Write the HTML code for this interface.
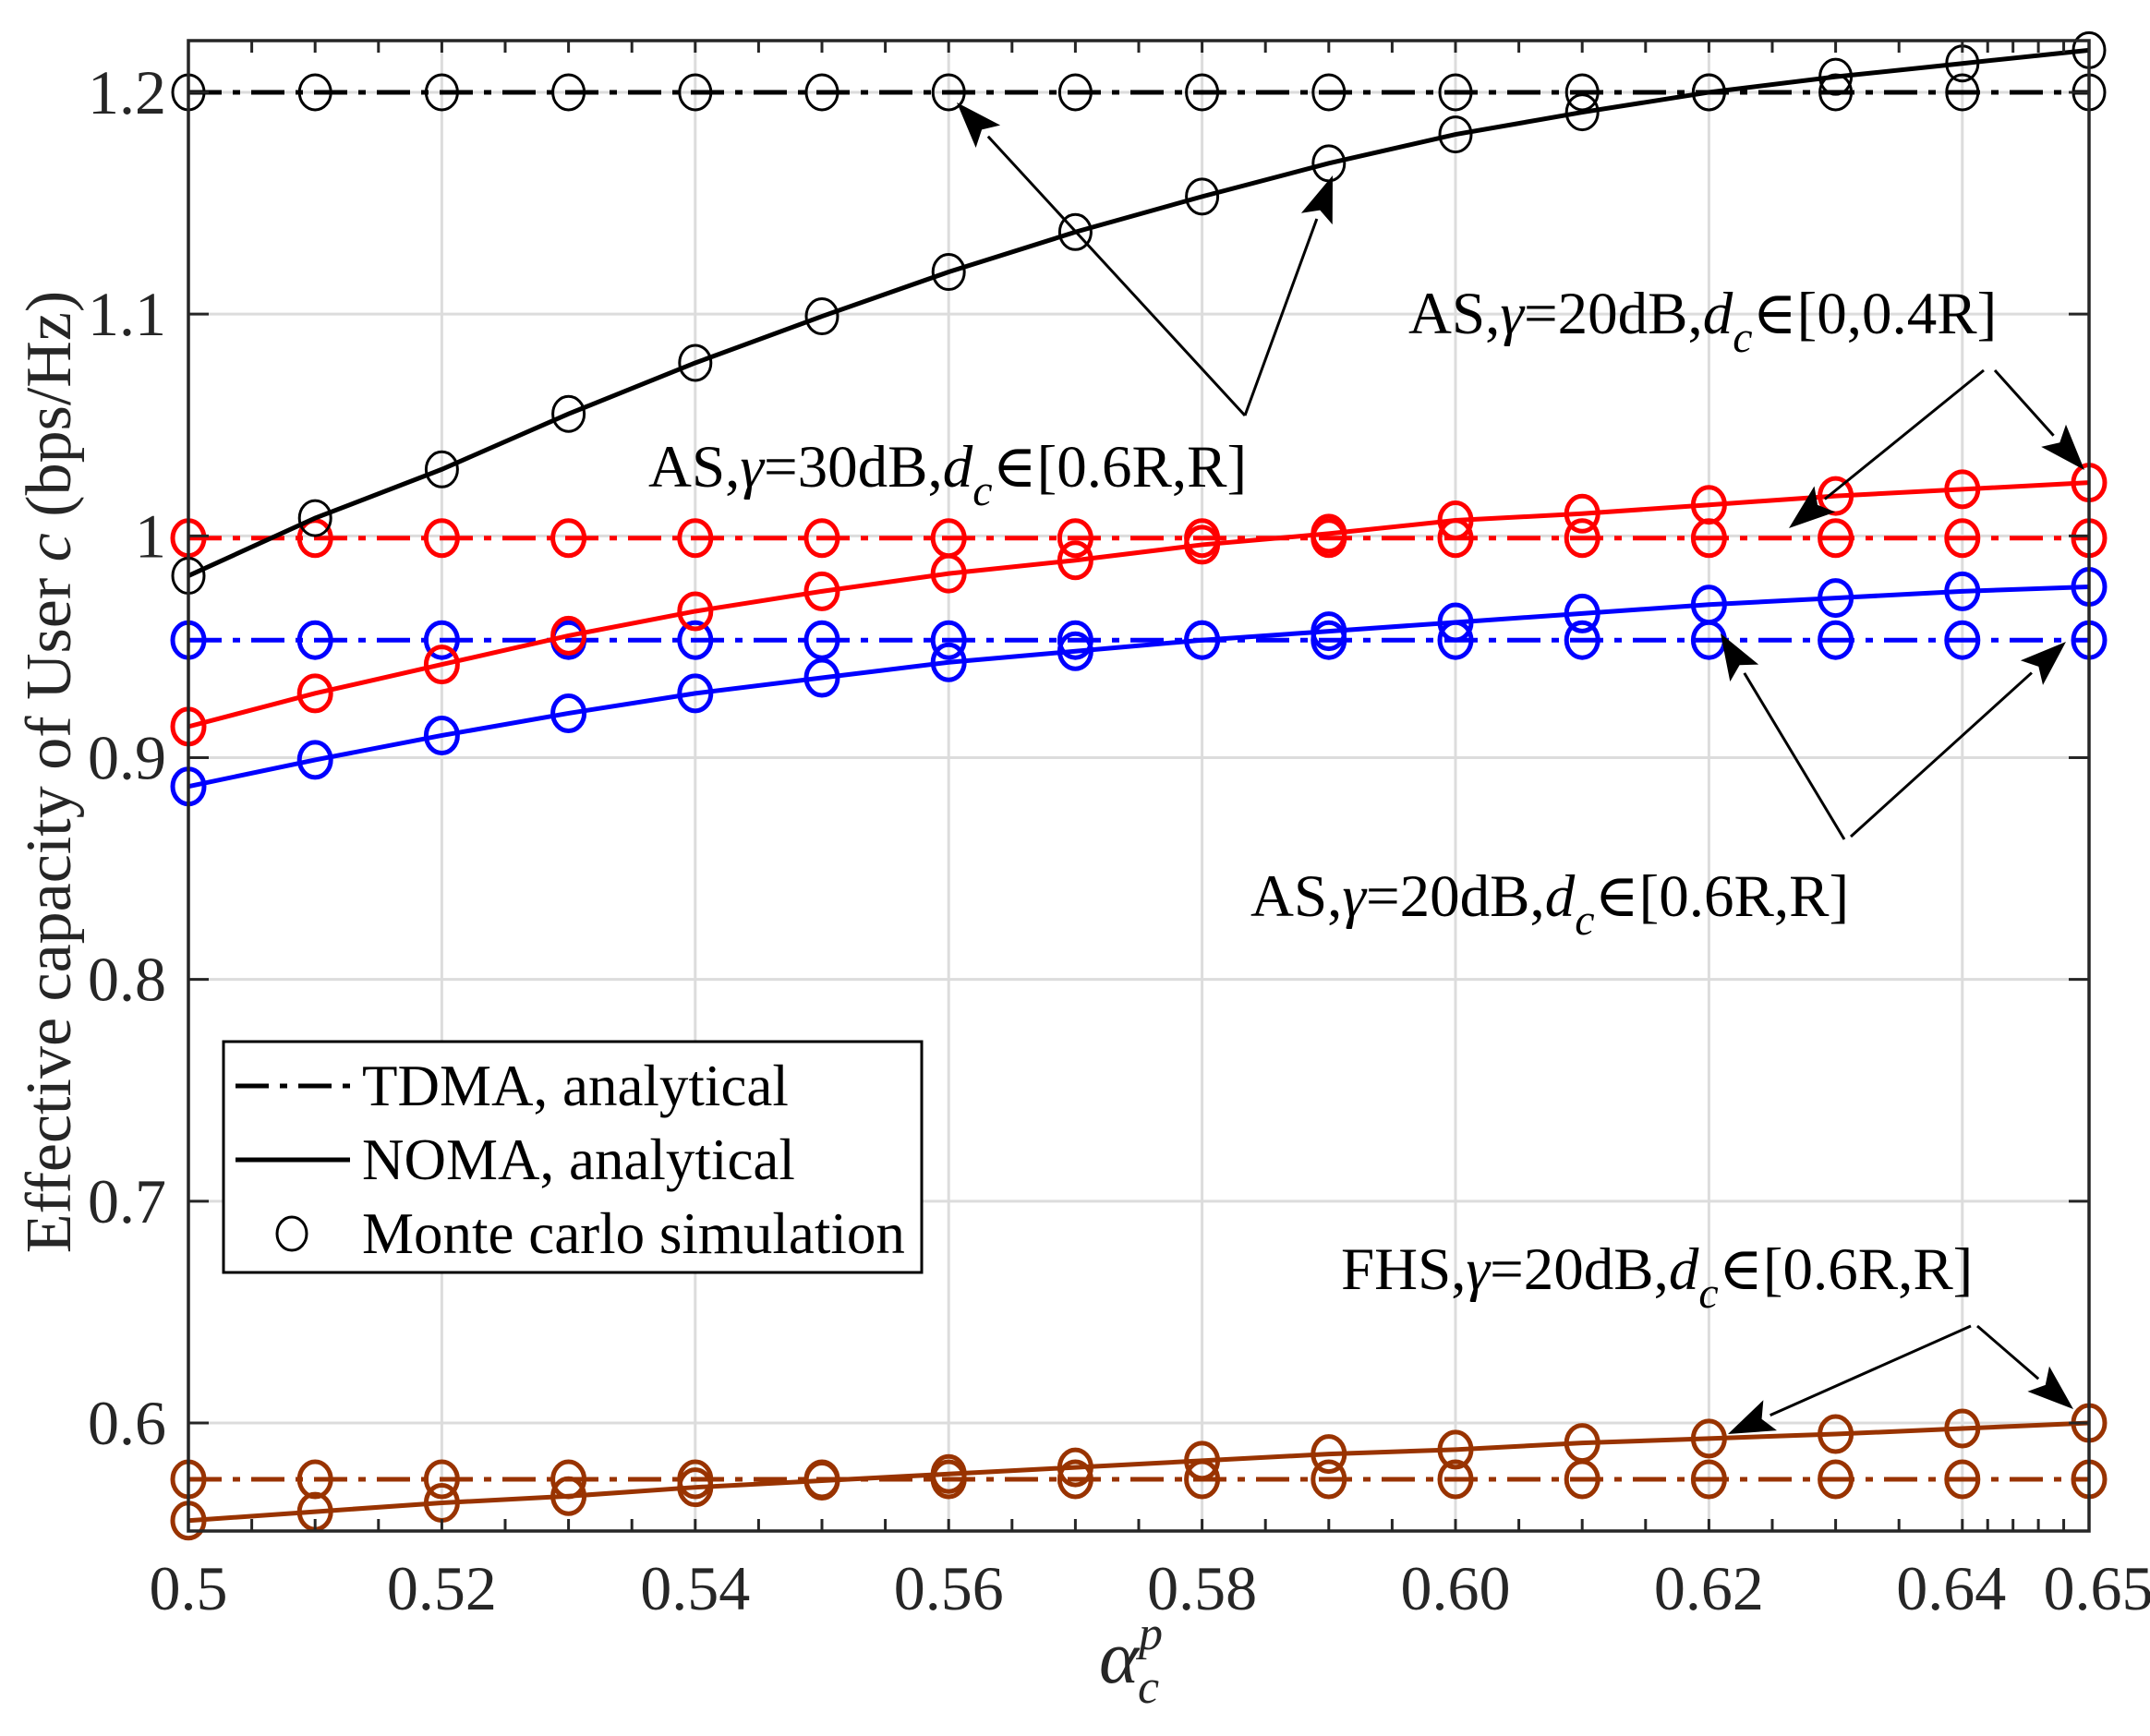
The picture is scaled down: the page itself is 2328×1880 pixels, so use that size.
<!DOCTYPE html>
<html><head><meta charset="utf-8">
<style>
html,body{margin:0;padding:0;background:#fff;}
svg{display:block;font-family:"Liberation Serif","DejaVu Serif",serif;}
</style></head>
<body>
<svg id="chart" width="2328" height="1880" viewBox="0 0 2328 1880" xmlns="http://www.w3.org/2000/svg">
<g id="grid"></g>
<g id="series"></g>
<g id="axes"></g>
<g id="annot">
  <text x="702" y="527" font-size="65">AS,<tspan font-style="italic">γ</tspan>=30dB,<tspan font-style="italic">d</tspan><tspan font-style="italic" font-size="48" dy="20">c</tspan><tspan dy="-20">∈[0.6R,R]</tspan></text>
  <text x="1525" y="361" font-size="65">AS,<tspan font-style="italic">γ</tspan>=20dB,<tspan font-style="italic">d</tspan><tspan font-style="italic" font-size="48" dy="20">c</tspan><tspan dy="-20">∈[0,0.4R]</tspan></text>
  <text x="1354" y="992" font-size="65">AS,<tspan font-style="italic">γ</tspan>=20dB,<tspan font-style="italic">d</tspan><tspan font-style="italic" font-size="48" dy="20">c</tspan><tspan dy="-20">∈[0.6R,R]</tspan></text>
  <text x="1452" y="1396" font-size="65">FHS,<tspan font-style="italic">γ</tspan>=20dB,<tspan font-style="italic">d</tspan><tspan font-style="italic" font-size="48" dy="20">c</tspan><tspan dy="-20">∈[0.6R,R]</tspan></text>
</g>
<g id="legend">
  <rect x="242" y="1128" width="756" height="250" fill="#fff" stroke="#000" stroke-width="3"/>
  <g>
    <line x1="255" y1="1176" x2="379" y2="1176" stroke="#000" stroke-width="5" stroke-dasharray="36 12 8 12"/>
    <text x="392" y="1197" font-size="63">TDMA, analytical</text>
  </g>
  <g>
    <line x1="255" y1="1256" x2="379" y2="1256" stroke="#000" stroke-width="5"/>
    <text x="392" y="1277" font-size="63">NOMA, analytical</text>
  </g>
  <g>
    <ellipse cx="316" cy="1336" rx="16" ry="18" fill="none" stroke="#000" stroke-width="3"/>
    <text x="392" y="1357" font-size="63">Monte carlo simulation</text>
  </g>
</g>
</svg>
<script>
const xVals=[0.5,0.51,0.52,0.53,0.54,0.55,0.56,0.57,0.58,0.59,0.60,0.61,0.62,0.63,0.64,0.65];
const nomaBlack=[0.982,1.008,1.030,1.055,1.078,1.099,1.119,1.137,1.153,1.168,1.181,1.191,1.200,1.207,1.213,1.219];
const tdmaBlack=[1.2,1.2,1.2,1.2,1.2,1.2,1.2,1.2,1.2,1.2,1.2,1.2,1.2,1.2,1.2,1.2];
const nomaRed=[0.914,0.929,0.942,0.955,0.966,0.975,0.983,0.989,0.996,1.001,1.007,1.010,1.014,1.018,1.021,1.024];
const tdmaRed=[0.999,0.999,0.999,0.999,0.999,0.999,0.999,0.999,0.999,0.999,0.999,0.999,0.999,0.999,0.999,0.999];
const nomaBlue=[0.887,0.899,0.910,0.920,0.929,0.936,0.943,0.948,0.953,0.957,0.961,0.965,0.969,0.972,0.975,0.977];
const tdmaBlue=[0.953,0.953,0.953,0.953,0.953,0.953,0.953,0.953,0.953,0.953,0.953,0.953,0.953,0.953,0.953,0.953];
const nomaBrown=[0.556,0.560,0.564,0.567,0.571,0.574,0.577,0.580,0.583,0.586,0.588,0.591,0.593,0.595,0.5975,0.600];
const tdmaBrown=[0.5746,0.5746,0.5746,0.5746,0.5746,0.5746,0.5746,0.5746,0.5746,0.5746,0.5746,0.5746,0.5746,0.5746,0.5746,0.5746];
const xTickLabels=["0.5","0.52","0.54","0.56","0.58","0.60","0.62","0.64","0.65"];
const xTickVals=[0.5,0.52,0.54,0.56,0.58,0.60,0.62,0.64,0.65];
const yTickVals=[0.6,0.7,0.8,0.9,1.0,1.1,1.2];
const yTickLabels=["0.6","0.7","0.8","0.9","1","1.1","1.2"];

const L=204,R=2262,T=44,B=1658;
const X0=0.5,X1=0.65,Y0=0.5513,Y1=1.2233;
const sx=v=>L+(v-X0)/(X1-X0)*(R-L);
const sy=v=>B-(v-Y0)/(Y1-Y0)*(B-T);
const NS="http://www.w3.org/2000/svg";
function mk(tag,parent,attrs){const e=document.createElementNS(NS,tag);for(const k in attrs)e.setAttribute(k,attrs[k]);parent.appendChild(e);return e;}
const grid=document.getElementById('grid'),series=document.getElementById('series'),axes=document.getElementById('axes');

xTickVals.slice(0,8).forEach(v=>{
  const g=mk('line',grid,{x1:sx(v),x2:sx(v),y1:T,y2:B,stroke:'#dcdcdc','stroke-width':3});
  
  
});
yTickVals.forEach(v=>{
  const g=mk('line',grid,{x1:L,x2:R,y1:sy(v),y2:sy(v),stroke:'#dcdcdc','stroke-width':3});
  
  
});

function addSeries(vals,color,dashed,name,sw,csw){
  const pts=vals.map((v,i)=>sx(xVals[i])+','+sy(v)).join(' ');
  const pl=mk('polyline',series,{points:pts,fill:'none',stroke:color,'stroke-width':sw});
  if(dashed)pl.setAttribute('stroke-dasharray','36 12 8 12');
  
  
  vals.forEach((v,i)=>{
    const c=mk('ellipse',series,{cx:sx(xVals[i]),cy:sy(v),rx:17,ry:19,fill:'none',stroke:color,'stroke-width':csw});
    
    
  });
}
addSeries(tdmaBrown,'#993300',true,'tdma-fhs-20db',5,5);
addSeries(nomaBrown,'#993300',false,'noma-fhs-20db',5,5);
addSeries(tdmaBlue,'#0000ff',true,'tdma-as-20db-far',5,5);
addSeries(nomaBlue,'#0000ff',false,'noma-as-20db-far',5,5);
addSeries(tdmaRed,'#ff0000',true,'tdma-as-20db-near',5,5);
addSeries(nomaRed,'#ff0000',false,'noma-as-20db-near',5,5);
addSeries(tdmaBlack,'#000000',true,'tdma-as-30db',5,3);
addSeries(nomaBlack,'#000000',false,'noma-as-30db',5,3);

const box=mk('rect',axes,{x:L,y:T,width:R-L,height:B-T,fill:'none',stroke:'#262626','stroke-width':3.5});


const minor=[];
for(let k=0;k<=28;k++)minor.push(0.5+k*0.005);
[0.642,0.644,0.646,0.648].forEach(v=>minor.push(v));
minor.forEach(v=>{
  mk('line',axes,{x1:sx(v),x2:sx(v),y1:B,y2:B-13,stroke:'#262626','stroke-width':3});
  mk('line',axes,{x1:sx(v),x2:sx(v),y1:T,y2:T+13,stroke:'#262626','stroke-width':3});
});
yTickVals.forEach((v,i)=>{
  mk('line',axes,{x1:L,x2:L+22,y1:sy(v),y2:sy(v),stroke:'#262626','stroke-width':3});
  mk('line',axes,{x1:R,x2:R-22,y1:sy(v),y2:sy(v),stroke:'#262626','stroke-width':3});
  const t=mk('text',axes,{x:180,y:sy(v)+23,'font-size':68,'text-anchor':'end',fill:'#262626'});
  t.textContent=yTickLabels[i];
  
  
});
xTickVals.forEach((v,i)=>{
  let x=sx(v);
  if(i===7)x-=12; if(i===8)x+=10;
  const t=mk('text',axes,{x:x,y:1743,'font-size':68,'text-anchor':'middle',fill:'#262626'});
  t.textContent=xTickLabels[i];
  
  
});
const yt=mk('text',axes,{transform:'translate(76,836) rotate(-90)','font-size':70,'text-anchor':'middle',fill:'#262626'});
yt.innerHTML='Effective capacity of User <tspan font-style="italic">c</tspan> (bps/Hz)';


const xt=mk('text',axes,{x:1190,y:1822,'font-size':82,'font-style':'italic',fill:'#262626'});
xt.innerHTML='α<tspan font-size="52" dy="-36">p</tspan><tspan font-size="52" dx="-27" dy="58">c</tspan>';



const annot=document.getElementById('annot');
const arrows=[[1348,450,1036,111],[1348,450,1443,190],[2148,401,1937,572],[2160,401,2257,509],[1997,909,1863,686],[2004,906,2237,695],[2134,1436,1871,1553],[2141,1436,2245,1526]];
arrows.forEach(a=>{
  const [x1,y1,x2,y2]=a;
  const dx=x2-x1,dy=y2-y1,len=Math.hypot(dx,dy),ux=dx/len,uy=dy/len;
  const hl=50,hw=18;
  const bx=x2-ux*hl,by=y2-uy*hl;
  const l=mk('line',annot,{x1:x1,y1:y1,x2:bx,y2:by,stroke:'#000','stroke-width':3});
  
  
  const p=mk('polygon',annot,{points:`${x2},${y2} ${bx-uy*hw},${by+ux*hw} ${bx+ux*10},${by+uy*10} ${bx+uy*hw},${by-ux*hw}`,fill:'#000'});
  
  
});
</script>
</body></html>
